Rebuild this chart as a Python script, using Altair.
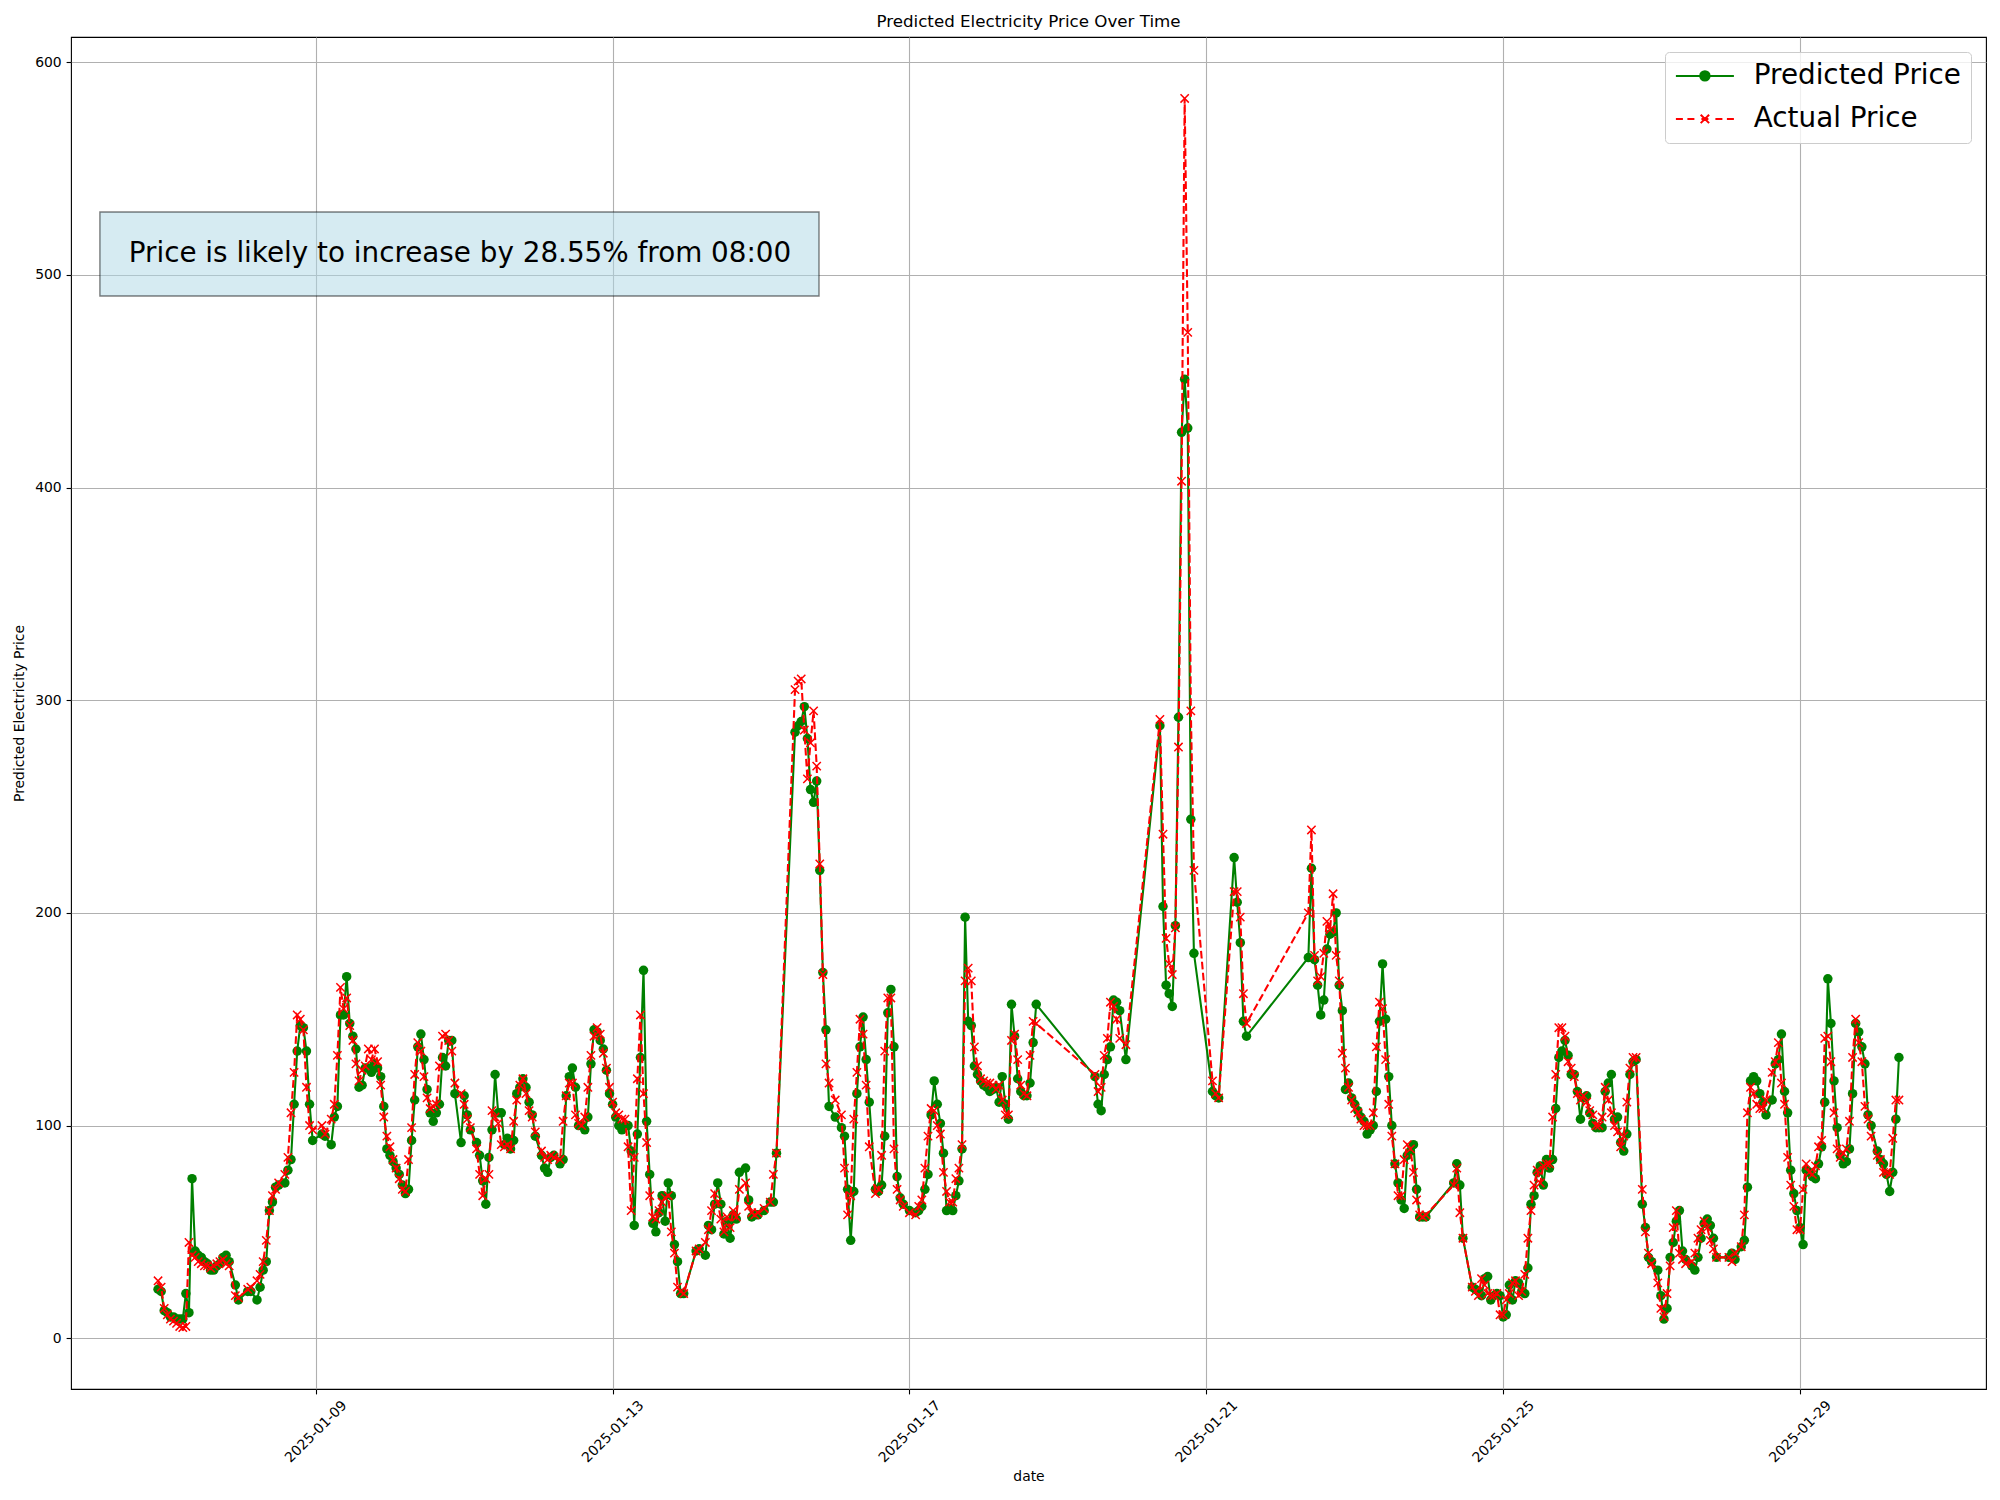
import altair as alt
import pandas as pd

START = "2025-01-06 21:00"

HOURS = [
    0, 1, 2, 3, 4, 5, 6, 7, 8, 9, 10, 11, 12, 13, 14, 15, 16, 17, 18, 19, 20, 21, 22, 23, 25, 26, 29, 30, 32, 33, 34, 35, 36, 37, 38, 39, 41, 42, 43, 44, 45, 46, 47, 48, 49, 50,
    53, 54, 56, 57, 58, 59, 60, 61, 62, 63, 64, 65, 66, 67, 68, 69, 70, 71, 72, 73, 74, 75, 76, 77, 78, 79, 80, 81, 82, 83, 84, 85, 86, 87, 88, 89, 90, 91, 92, 93, 94, 95, 96,
    98, 99, 100, 101, 103, 104, 105, 106, 107, 108, 109, 110, 111, 112, 113, 114, 115, 116, 117, 118, 119, 120, 121, 122, 124, 125, 126, 127, 128, 130, 131, 132, 133, 134, 135, 136, 137, 138, 139, 140, 141, 142, 143, 144, 145, 146, 147, 148, 149, 150,
    151, 152, 153, 154, 155, 156, 157, 158, 159, 160, 161, 162, 163, 164, 165, 166, 167, 168, 169, 170, 174, 175, 177, 178, 179, 180, 181, 182, 183, 184, 185, 186, 187, 188, 190, 191, 192, 193, 194, 196, 198, 199, 200,
    206, 207, 208, 209, 210, 211, 212, 213, 214, 215, 216, 217, 219, 221, 222, 223, 224, 225, 226, 227, 228, 229, 230, 232, 233, 234, 235, 236, 237, 238, 239, 240, 241, 243, 245, 246, 247, 248, 249, 250, 251, 252, 253, 254, 255, 256, 257, 258, 259, 260,
    261, 262, 263, 264, 265, 266, 267, 268, 269, 270, 271, 272, 273, 274, 275, 276, 277, 278, 279, 280, 281, 282, 283, 284, 303, 304, 305, 306, 307, 308, 309, 310, 311, 313, 324, 325, 326, 327, 328, 329, 330, 331, 332, 333, 334, 335, 341, 342, 343, 348, 349, 350, 351, 352,
    372, 373, 374, 375, 376, 377, 378, 379, 380, 381, 382, 383, 384, 385, 386, 387, 388, 389, 390, 391, 392, 393, 394, 395, 396, 397, 398, 399, 400, 401, 402, 403, 404, 405, 406, 407, 408, 409, 410, 419, 420, 421, 422,
    425, 426, 427, 428, 429, 430, 431, 432, 433, 434, 435, 436, 437, 438, 439, 440, 441, 442, 443, 444, 445, 446, 447, 448, 449, 450, 451, 452, 453, 454, 455, 456, 457, 458, 459, 460, 461, 462, 463, 464, 465, 466, 467, 468, 469, 470, 471, 472, 473, 474, 475, 476, 477, 478,
    480, 481, 482, 483, 485, 486, 487, 488, 489, 490, 491, 492, 493, 494, 496, 497, 498, 499, 500, 501, 502, 503, 504, 508, 509, 510, 512, 513, 514, 515, 516, 517, 518, 519, 520, 522, 523, 524, 525, 526, 527, 528, 529, 530, 531, 532, 533, 534, 535, 536, 537, 538, 539, 540, 541, 542, 543, 544, 545, 546, 547, 548, 549, 550, 551, 552, 553, 554, 556, 557, 558, 559, 560, 561, 562, 563,
]

PRED = [
    23, 22, 13, 12, 10, 10, 9, 9, 9, 21, 12, 75, 41, 39, 38, 36, 35, 32, 32, 34, 35, 38, 39, 36, 25, 18, 22, 22, 18, 24, 32, 36, 60, 64, 71, 72, 73, 79, 84, 110, 135, 147, 146, 135, 110, 93,
    96, 95, 91, 104, 109, 152, 152, 170, 148, 142, 136, 118, 119, 127, 127, 125, 129, 127, 123, 109, 89, 86, 83, 80, 77, 72, 68, 70, 93, 112, 137, 143, 131, 117, 106, 102, 106, 110, 132, 128, 140, 140, 115,
    92, 114, 105, 98, 92, 86, 74, 63, 85, 98, 124, 106, 106, 91, 94, 89, 93, 115, 118, 122, 118, 111, 105, 95, 86, 80, 78, 85, 86, 82, 84, 114, 123, 127, 118, 100, 100, 98, 104, 129, 145, 144, 140, 136, 126, 115, 110, 104, 100, 98,
    100, 100, 88, 53, 96, 132, 173, 102, 77, 54, 50, 59, 67, 55, 73, 67, 44, 36, 21, 21, 41, 42, 39, 53, 51, 63, 73, 63, 49, 55, 47, 58, 56, 78, 80, 65, 57, 58, 58, 60, 64, 64, 87,
    285, 288, 290, 297, 282, 258, 252, 262, 220, 172, 145, 109, 104, 99, 95, 70, 46, 69, 115, 137, 151, 131, 111, 70, 69, 72, 95, 153, 164, 137, 76, 66, 63, 60, 59, 60, 62, 70, 77, 105, 121, 110, 101, 87, 60, 61, 60, 67, 74, 89,
    198, 149, 147, 128, 124, 121, 119, 118, 116, 117, 118, 111, 123, 110, 103, 157, 142, 122, 116, 114, 114, 120, 139, 157, 123, 110, 107, 124, 131, 137, 159, 158, 154, 131, 288, 203, 166, 162, 156, 194, 292, 426, 451, 428, 244, 181, 116, 114, 113, 226, 205, 186, 149, 142,
    179, 221, 178, 166, 152, 159, 183, 190, 191, 200, 166, 154, 117, 120, 113, 110, 107, 104, 102, 96, 98, 100, 116, 149, 176, 150, 123, 100, 82, 73, 65, 61, 86, 88, 91, 70, 57, 57, 57, 73, 82, 72, 47,
    24, 23, 22, 20, 28, 29, 18, 20, 21, 20, 10, 11, 25, 18, 27, 26, 22, 21, 33, 63, 67, 78, 81, 72, 84, 80, 84, 108, 132, 135, 140, 133, 124, 124, 116, 103, 113, 114, 106, 101, 99, 99, 99, 116, 120, 124, 103, 104, 92, 88, 96, 124, 130, 131,
    63, 52, 38, 36, 32, 20, 9, 14, 38, 45, 55, 60, 41, 37, 34, 32, 38, 47, 54, 56, 53, 47, 38, 38, 40, 37, 43, 46, 71, 121, 123, 121, 115, 111, 105, 112, 129, 131, 143, 116, 106, 79, 68, 60, 52, 44, 79, 78, 76, 75, 82, 90, 111, 169, 148, 121, 99, 86, 82, 83, 89, 115, 148, 144, 137, 129, 105, 100, 88, 84, 82, 77, 69, 78, 103, 132,
]

ACTUAL = [
    27, 24, 14, 11, 9, 8, 7, 5.5, 5, 5.5, 45, 39, 38, 36, 35, 34, 34, 33, 34, 35, 36, 37, 35, 34, 20, 19, 23, 24, 27, 30, 36, 46, 60, 67, 70, 73, 77, 85, 106, 125, 152, 150, 145, 118, 100, 98,
    100, 96, 103, 110, 133, 165, 155, 160, 147, 140, 129, 121, 126, 128, 136, 131, 136, 130, 119, 104, 95, 90, 84, 80, 75, 70, 69, 84, 99, 124, 139, 135, 123, 113, 108, 109, 110, 128, 142, 143, 140, 135, 120,
    115, 110, 103, 99, 89, 77, 67, 75, 77, 107, 104, 101, 91, 90, 91, 89, 102, 112, 119, 122, 115, 107, 104, 97, 88, 85, 84, 86, 85, 84, 102, 114, 120, 120, 105, 101, 100, 104, 118, 133, 142, 146, 143, 134, 127, 118, 111, 106, 105, 103,
    103, 90, 60, 85, 122, 152, 115, 92, 67, 57, 56, 60, 64, 66, 67, 50, 40, 24, 22, 21, 41, 42, 45, 51, 60, 68, 64, 56, 50, 57, 52, 60, 57, 70, 73, 62, 59, 58, 59, 61, 64, 77, 87,
    305, 309, 310, 286, 263, 280, 295, 269, 223, 171, 129, 120, 112, 105, 80, 58, 67, 103, 125, 150, 143, 119, 90, 68, 70, 86, 135, 160, 160, 89, 70, 65, 62, 59, 58, 62, 65, 80, 95, 108, 107, 100, 96, 78, 69, 64, 64, 75, 80, 91,
    168, 174, 168, 137, 128, 122, 121, 120, 120, 119, 117, 119, 112, 105, 105, 140, 143, 131, 119, 115, 114, 133, 149, 148, 124, 116, 118, 133, 141, 158, 156, 150, 141, 138, 291, 237, 188, 176, 171, 193, 278, 403, 583, 473, 295, 220, 121, 115, 113, 210, 210, 198, 162, 148,
    200, 239, 180, 168, 170, 181, 196, 192, 209, 180, 168, 134, 127, 118, 112, 108, 106, 103, 100, 100, 100, 106, 137, 158, 155, 131, 110, 95, 82, 67, 67, 84, 91, 89, 78, 65, 58, 57, 58, 72, 80, 59, 47,
    24, 22, 20, 28, 25, 21, 20, 20, 21, 11, 11, 18, 21, 26, 27, 20, 22, 30, 47, 60, 72, 79, 73, 81, 82, 82, 104, 124, 146, 146, 142, 130, 127, 123, 115, 112, 114, 111, 107, 105, 100, 100, 104, 118, 112, 106, 100, 97, 90, 95, 111, 127, 132, 132,
    70, 50, 40, 35, 26, 14, 10, 21, 34, 52, 60, 40, 37, 35, 36, 40, 47, 51, 55, 52, 46, 42, 38, 38, 36, 40, 43, 58, 106, 118, 115, 110, 108, 108, 112, 125, 130, 139, 120, 110, 85, 72, 62, 51, 51, 70, 82, 78, 77, 81, 90, 93, 141, 142, 130, 106, 89, 85, 87, 89, 102, 132, 150, 139, 130, 109, 103, 95, 86, 84, 78, 78, 77, 94, 112, 112,
]

X_TICKS = ["2025-01-09", "2025-01-13", "2025-01-17", "2025-01-21", "2025-01-25", "2025-01-29"]
Y_TICKS = [0, 100, 200, 300, 400, 500, 600]
SERIES = ["Predicted Price", "Actual Price"]
COLORS = ["#008000", "#ff0000"]
TITLE = "Predicted Electricity Price Over Time"
X_TITLE = "date"
Y_TITLE = "Predicted Electricity Price"
NOTE = "Price is likely to increase by 28.55% from 08:00"

assert len(HOURS) == len(PRED) == len(ACTUAL)

FONT = "DejaVu Sans"
W, H = 1915, 1352

start = pd.Timestamp(START)
dates = [start + pd.Timedelta(hours=h) for h in HOURS]
iso = [d.strftime("%Y-%m-%dT%H:%M:%S") for d in dates]
pred_df = pd.DataFrame({"date": iso, "value": PRED})
act_df = pd.DataFrame({"date": iso, "value": ACTUAL})


def dt(t):
    return alt.DateTime(year=t.year, month=t.month, date=t.day,
                        hours=t.hour, minutes=t.minute, seconds=t.second)


span = dates[-1] - dates[0]
x0 = dates[0] - span * 0.05
x1 = dates[-1] + span * 0.05
vals = PRED + ACTUAL
lo, hi = min(vals), max(vals)
ypad = (hi - lo) * 0.05

x_enc = alt.X(
    "date:T",
    scale=alt.Scale(domain=[dt(x0), dt(x1)], nice=False),
    axis=alt.Axis(
        title=X_TITLE, values=[dt(pd.Timestamp(s)) for s in X_TICKS],
        format="%Y-%m-%d", labelAngle=315, labelAlign="center",
        labelBaseline="middle", labelPadding=37.6, titlePadding=5,
        labelOverlap=False, grid=True,
    ),
)
y_enc = alt.Y(
    "value:Q",
    scale=alt.Scale(domain=[lo - ypad, hi + ypad], nice=False, zero=False),
    axis=alt.Axis(title=Y_TITLE, values=Y_TICKS, format="d", labelPadding=4.9,
                  titlePadding=8, grid=True),
)

pred_line = alt.Chart(pred_df).mark_line(color=COLORS[0], strokeWidth=2.08).encode(x=x_enc, y=y_enc)
pred_pts = alt.Chart(pred_df).mark_point(
    filled=True, shape="circle", color=COLORS[0], size=90, opacity=1
).encode(x=x_enc, y=y_enc)
act_line = alt.Chart(act_df).mark_line(
    color=COLORS[1], strokeWidth=2.08, strokeDash=[7.7, 3.3]
).encode(x=x_enc, y=y_enc)
act_pts = alt.Chart(act_df).mark_point(
    shape="M-1,-1L1,1M-1,1L1,-1", filled=False, color=COLORS[1], size=69,
    strokeWidth=1.5, opacity=1
).encode(x=x_enc, y=y_enc)

LEG_SHAPES = [
    "M-2.9,0L2.9,0M0.47,0A0.47,0.47,0,1,1,-0.47,0A0.47,0.47,0,1,1,0.47,0Z",
    "M-2.9,0L-2.2,0M-1.75,0L-1.05,0M-0.35,0L0.35,0M1.05,0L1.75,0M2.2,0L2.9,0"
    "M-0.42,-0.42L0.42,0.42M-0.42,0.42L0.42,-0.42",
]
leg = alt.Legend(
    title=None, orient="top-right", offset=15, padding=10,
    fillColor="rgba(255,255,255,0.8)", strokeColor="#cccccc", cornerRadius=4,
    labelFont=FONT, labelFontSize=27.8, labelColor="black", labelLimit=500,
    labelOffset=35, symbolOffset=16, symbolSize=400, symbolStrokeWidth=2,
    symbolOpacity=1, rowPadding=14,
)
legend_df = pd.DataFrame({"date": [iso[0]] * 2, "value": [PRED[0]] * 2, "series": SERIES})
legend_layer = alt.Chart(legend_df).mark_point(filled=True, opacity=0).encode(
    x=x_enc, y=y_enc,
    fill=alt.Fill("series:N", scale=alt.Scale(domain=SERIES, range=COLORS), legend=leg),
    stroke=alt.Stroke("series:N", scale=alt.Scale(domain=SERIES, range=COLORS), legend=leg),
    shape=alt.Shape("series:N", scale=alt.Scale(domain=SERIES, range=LEG_SHAPES), legend=leg),
)

# annotation box placed in axes-fraction terms (like transAxes)
BOX = (0.0151 * W, 0.3906 * W, 0.1294 * H, 0.1916 * H)
note_df = pd.DataFrame({"note": [NOTE]})
note_box = alt.Chart(note_df).mark_rect(
    fill="#add8e6", fillOpacity=0.5, stroke="#000000", strokeOpacity=0.5, strokeWidth=1.4
).encode(x=alt.value(BOX[0]), x2=alt.value(BOX[1]), y=alt.value(BOX[2]), y2=alt.value(BOX[3]))
note_text = alt.Chart(note_df).mark_text(
    font=FONT, fontSize=27.8, align="center", baseline="alphabetic", color="black"
).encode(x=alt.value(0.2031 * W), y=alt.value(0.1666 * H), text="note:N")

chart = alt.layer(
    pred_line, pred_pts, act_line, act_pts, legend_layer, note_box, note_text
).properties(
    width=W, height=H,
    padding={"left": 63, "top": 29, "right": 6, "bottom": 103},
    autosize=alt.AutoSizeParams(type="none"),
    title=alt.TitleParams(TITLE, font=FONT, fontSize=16.7, fontWeight="normal",
                          color="black", anchor="middle", offset=6),
).configure_view(
    stroke="black", strokeWidth=1.1
).configure_axis(
    domain=False, gridColor="#b0b0b0", gridWidth=1.1, gridOpacity=1,
    tickColor="black", tickSize=4.9, tickWidth=1.1,
    labelFont=FONT, labelFontSize=13.9, labelColor="black",
    titleFont=FONT, titleFontSize=13.9, titleFontWeight="normal", titleColor="black",
)

chart.save("out.html", embed_options={"renderer": "svg", "actions": False})
